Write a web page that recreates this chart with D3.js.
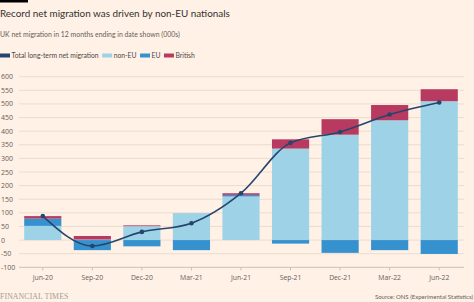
<!DOCTYPE html>
<html>
<head>
<meta charset="utf-8">
<script src="https://cdn.jsdelivr.net/npm/d3@7"></script>
<style>
  body { margin: 0; background: #fff1e5; }
  svg { display: block; font-family: "Open Sans", "Noto Sans", sans-serif; }
</style>
</head>
<body>
<div id="chart"></div>
<script>
// chart data (000s)
var periods = ["Jun-20", "Sep-20", "Dec-20", "Mar-21", "Jun-21", "Sep-21", "Dec-21", "Mar-22", "Jun-22"];
var nonEU   = [52, 2, 51, 99, 160, 336, 387, 440, 510];
var eu      = [27, -37, -23, -37, 6, -13, -47, -37, -51];
var british = [9, 13, 3, 0, 6, 34, 57, 56, 44];
var total   = [88, -22, 30, 62, 172, 357, 397, 461, 505];
var yTicks  = [-100, -50, 0, 50, 100, 150, 200, 250, 300, 350, 400, 450, 500, 550, 600];

var W = 474, H = 302;
var colors = { total: "#26456e", nonEU: "#9dd2e7", eu: "#3692cf", british: "#b83a61" };

var svg = d3.select("#chart").append("svg")
  .attr("width", W)
  .attr("height", H);

svg.append("rect").attr("width", W).attr("height", H).attr("fill", "#fff1e5");
// little black bar top left
svg.append("rect").attr("x", 0).attr("y", 0).attr("width", 28).attr("height", 2.5).attr("fill", "#000");

svg.append("text").attr("x", 0).attr("y", 16.5)
  .attr("font-family", "Lato, sans-serif")
  .attr("font-size", 9.9).attr("fill", "#33302e")
  .text("Record net migration was driven by non-EU nationals");
svg.append("text").attr("x", 0).attr("y", 36.5)
  .attr("font-family", "Lato, sans-serif")
  .attr("font-size", 6.9).attr("fill", "#66605c")
  .text("UK net migration in 12 months ending in date shown (000s)");

// legend
var legendItems = [
  { label: "Total long-term net migration", color: colors.total },
  { label: "non-EU", color: colors.nonEU },
  { label: "EU", color: colors.eu },
  { label: "British", color: colors.british }
];
var lx = 0;
legendItems.forEach(function(item) {
  svg.append("rect").attr("x", lx).attr("y", 53.5).attr("width", 10).attr("height", 4).attr("fill", item.color);
  var t = svg.append("text").attr("x", lx + 11.5).attr("y", 58.3)
    .attr("font-family", "Lato, sans-serif")
    .attr("font-size", 6.8).attr("fill", "#4d4845").text(item.label);
  lx += 11.5 + t.node().getComputedTextLength() + 3.5;
});

var x = d3.scaleBand().domain(periods).range([18, 464]).paddingInner(0.25).paddingOuter(0.125);
var y = d3.scaleLinear().domain([-100, 600]).range([267.3, 76.7]);

// gridlines + y labels
var yAxis = svg.append("g");
yTicks.forEach(function(v) {
  yAxis.append("line").attr("x1", 19).attr("x2", 464)
    .attr("y1", y(v)).attr("y2", y(v))
    .attr("stroke", v == -100 ? "#ccc1b7" : "#eadcd0").attr("stroke-width", 1);
  yAxis.append("text").attr("x", 1).attr("y", y(v) + 2.5)
    .attr("font-size", 7).attr("fill", "#66605c").text(v);
});

// stacked bars: positives go up from 0, negatives go down
var bars = svg.append("g");
periods.forEach(function(p, i) {
  var pos = 0, neg = 0;
  [["nonEU", nonEU[i]], ["eu", eu[i]], ["british", british[i]]].forEach(function(s) {
    var v = s[1];
    if (v == 0) return;
    var y0, y1;
    if (v > 0) { y0 = pos; y1 = pos + v; pos = y1; }
    else { y0 = neg; y1 = neg + v; neg = y1; }
    bars.append("rect")
      .attr("x", x(p))
      .attr("width", x.bandwidth())
      .attr("y", y(Math.max(y0, y1)))
      .attr("height", Math.abs(y(y0) - y(y1)))
      .attr("fill", colors[s[0]]);
  });
});

// x ticks + labels
periods.forEach(function(p) {
  var cx = x(p) + x.bandwidth() / 2;
  svg.append("line").attr("x1", cx).attr("x2", cx).attr("y1", 267.3).attr("y2", 270.5)
    .attr("stroke", "#ccc1b7");
  svg.append("text").attr("x", cx).attr("y", 279.5).attr("text-anchor", "middle")
    .attr("font-size", 6.8).attr("fill", "#66605c").text(p);
});

// total line
var line = d3.line()
  .x(function(d, i) { return x(periods[i]) + x.bandwidth() / 2; })
  .y(function(d) { return y(d); })
  .curve(d3.curveMonotoneX);
svg.append("path").attr("d", line(total))
  .attr("fill", "none").attr("stroke", colors.total).attr("stroke-width", 1.6);
svg.selectAll(".dot").data(total).enter().append("circle")
  .attr("cx", function(d, i) { return x(periods[i]) + x.bandwidth() / 2; })
  .attr("cy", function(d) { return y(d); })
  .attr("r", 2.3)
  .attr("fill", colors.total);

// footer
svg.append("text").attr("x", 0).attr("y", 298.5)
  .attr("font-family", "'Liberation Serif', 'DejaVu Serif', serif")
  .attr("font-size", 7.8).attr("fill", "#a59d96").attr("letter-spacing", 0.1)
  .text("FINANCIAL TIMES");
svg.append("text").attr("x", 473).attr("y", 298.5).attr("text-anchor", "end")
  .attr("font-family", "Lato, sans-serif")
  .attr("font-size", 6).attr("fill", "#66605c")
  .text("Source: ONS (Experimental Statistics)");
</script>
</body>
</html>
